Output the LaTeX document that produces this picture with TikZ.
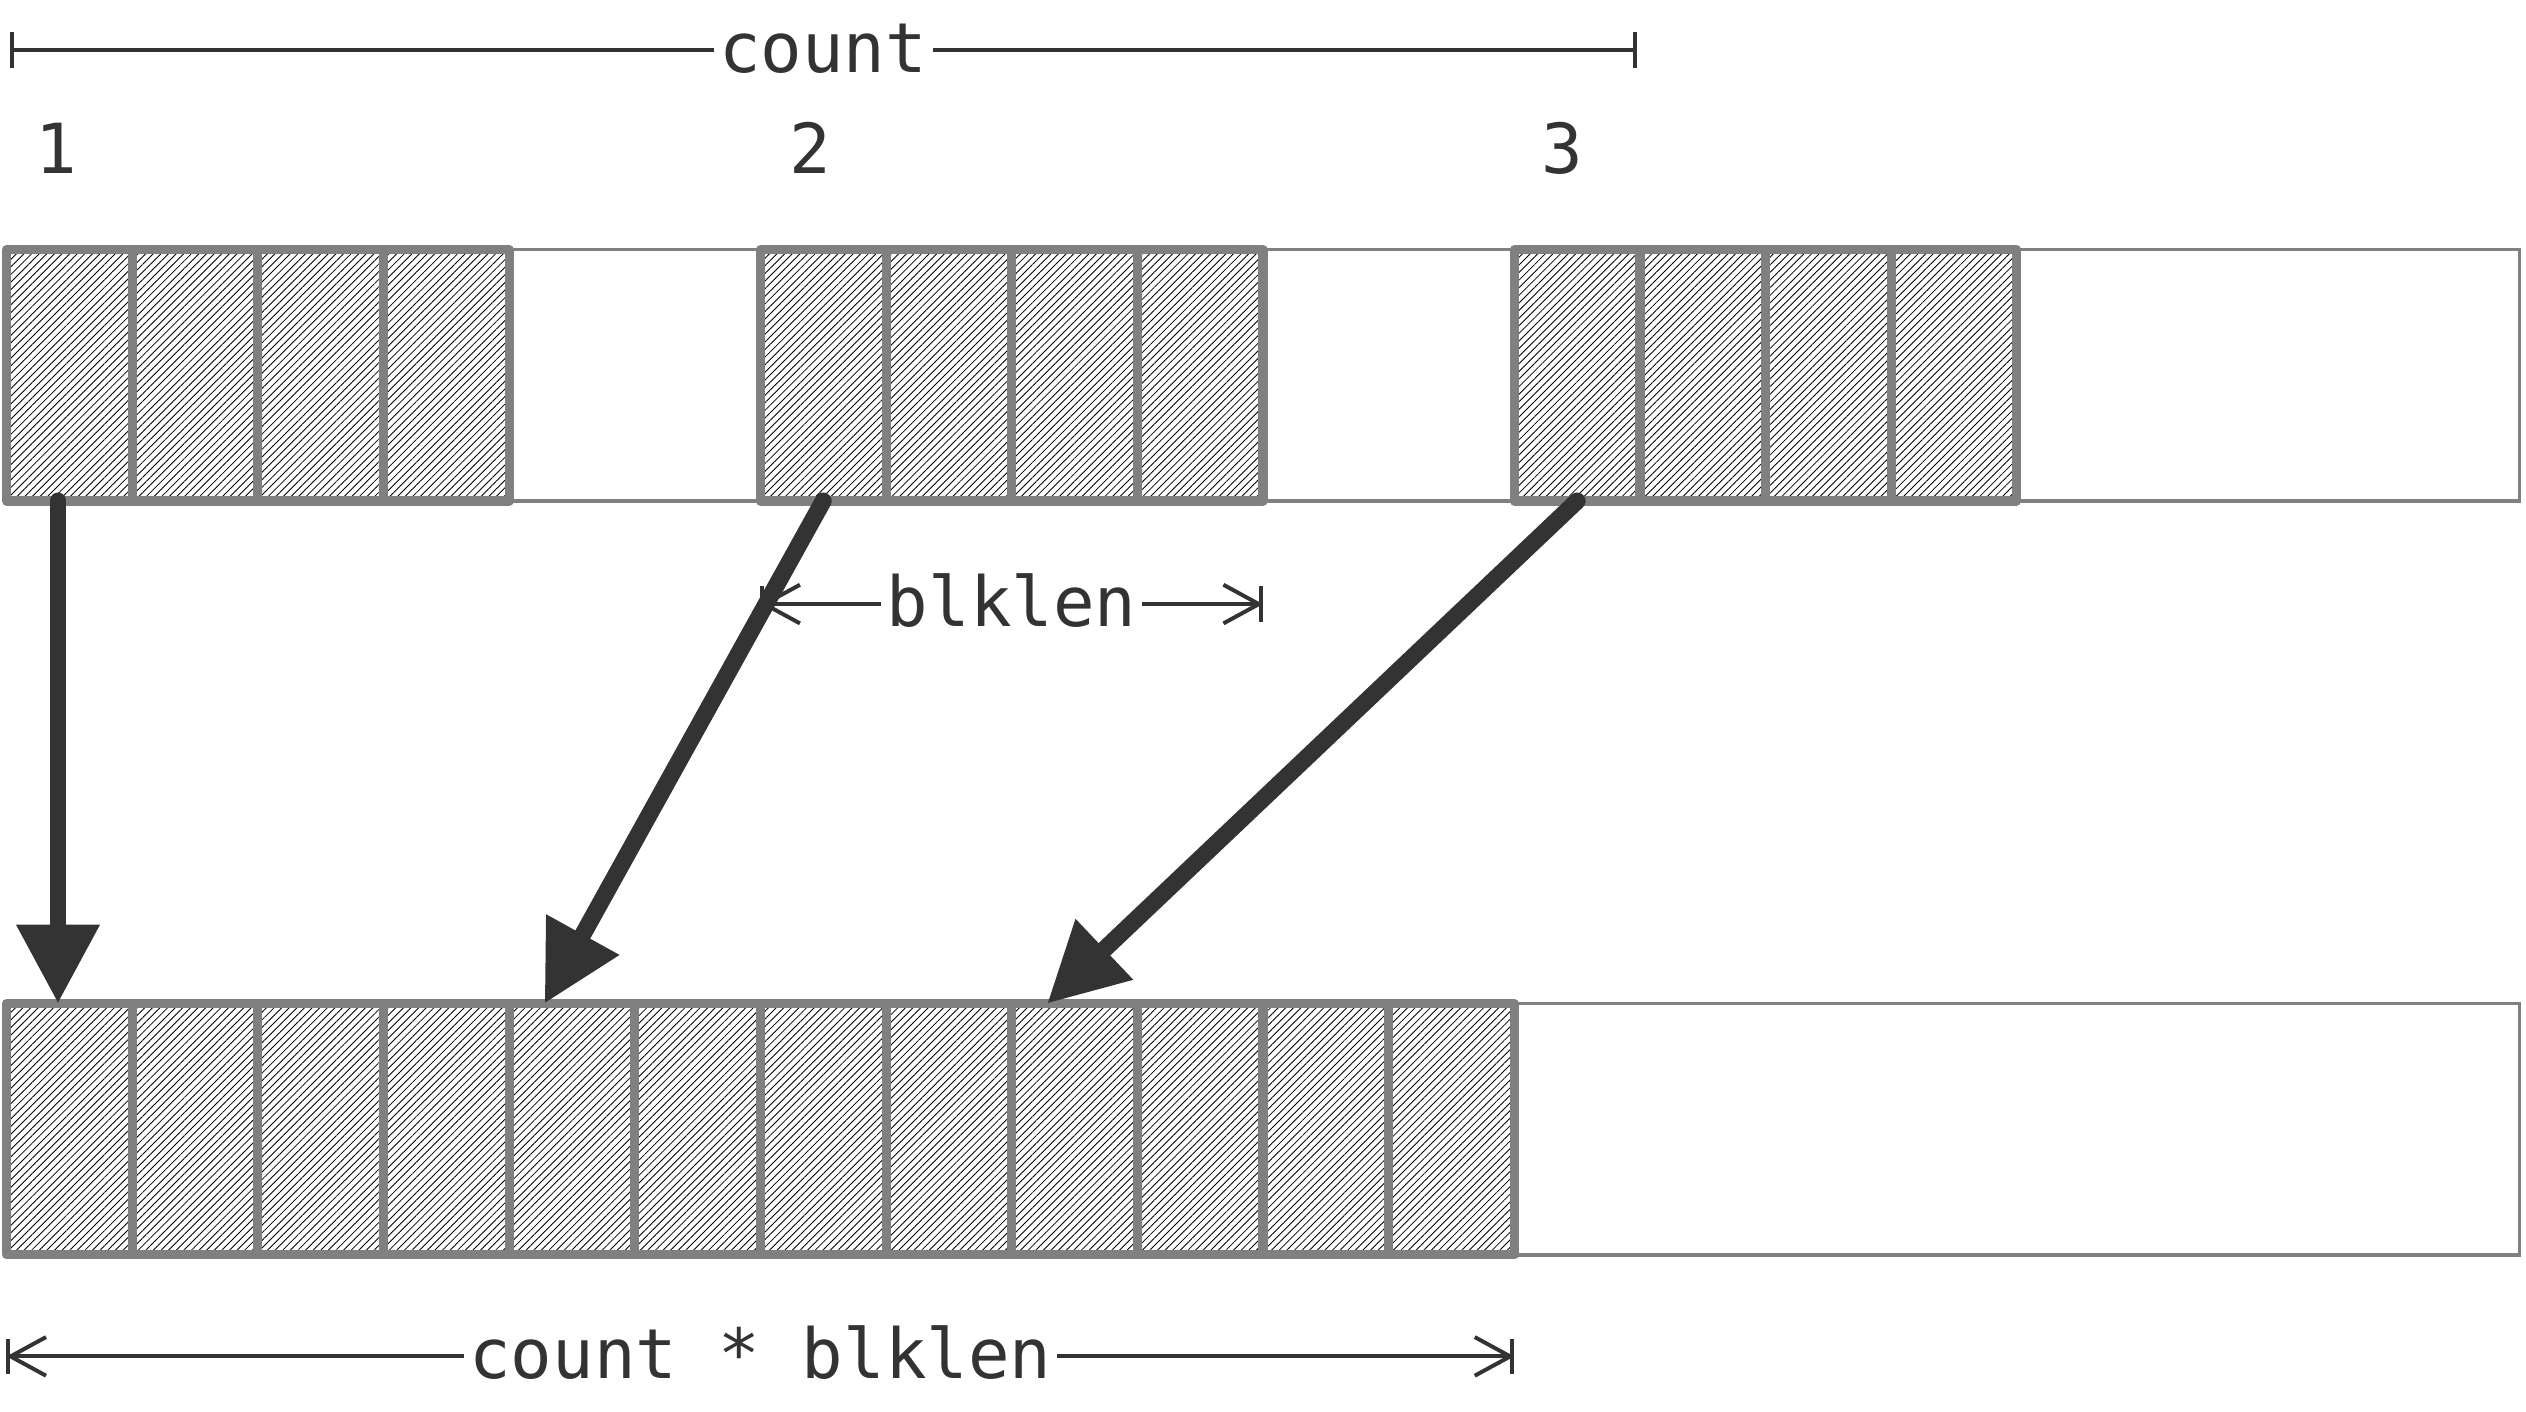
\documentclass[tikz,border=0pt]{standalone}
\usepackage{fontspec}
\setmonofont{DejaVu Sans Mono}
\usetikzlibrary{arrows.meta,patterns.meta}
\definecolor{cellgray}{HTML}{808080}
\definecolor{ink}{HTML}{333333}
\tikzset{
 track/.style={draw=cellgray,line width=0.6pt,fill=white,minimum width=156mm,minimum height=15.6mm,inner sep=0pt,outer sep=0pt},
 cell/.style={pattern={Lines[angle=45,distance=0.95pt,line width=0.15pt]},pattern color=black,minimum width=7.8mm,minimum height=15.6mm,inner sep=0pt,outer sep=0pt},
 cellborder/.style={draw=cellgray,line width=1.6pt,line join=round},
 bigarrow/.style={draw=ink,line width=3pt,line cap=round,-{Triangle[length=4.9mm,width=4.9mm]}},
 dimline/.style={draw=ink,line width=0.7pt},
 dimbar/.style={dimline,{Bar[width=2.2mm]}-{Bar[width=2.2mm]}},
 dimbarb/.style={dimline,{Straight Barb[length=2.2mm,width=2.4mm]}-{Straight Barb[length=2.2mm,width=2.4mm]}},
 lbl/.style={font=\ttfamily\fontsize{12.2}{14}\selectfont,text=ink,fill=white,inner sep=1pt,anchor=base},
}
\begin{document}
\begin{tikzpicture}[x=1mm,y=1mm]
\useasboundingbox (0,0) rectangle (156.8,87.6);
% tracks
\node[track] (toptrack) at (78.4,64.3) {};
\node[track] (bottrack) at (78.4,17.5) {};
% top cells
\foreach \k [count=\i] in {0,1,2,3,6,7,8,9,12,13,14,15}
  \node[cell] (t\i) at ({0.4+7.8*(\k+0.5)},64.3) {};
% bottom cells
\foreach \k [count=\i] in {0,...,11}
  \node[cell] (b\i) at ({0.4+7.8*(\k+0.5)},17.5) {};
% cell borders, drawn after all fills
\foreach \i in {1,...,12}{
  \draw[cellborder] (t\i.south west) rectangle (t\i.north east);
  \draw[cellborder] (b\i.south west) rectangle (b\i.north east);
}
% copy arrows
\draw[bigarrow] ([xshift=3.2mm]t1.south west) -- ([xshift=3.2mm]b1.north west);
\draw[bigarrow] (t5.south) -- ([xshift=2.2mm]b5.north west);
\draw[bigarrow] (t9.south) -- ([xshift=2.2mm]b9.north west);
% dimension lines
\coordinate (cs) at (0.6,84.5);
\coordinate (ce) at (101.6,84.5);
\draw[dimbar] (cs) -- (ce);
\coordinate (bs) at (t5.west |- 0,50.1);
\coordinate (be) at (t8.east |- 0,50.1);
\draw[dimbar] (bs) -- (be);
\draw[dimbarb] (bs) -- (be);
\coordinate (ts) at (b1.west |- 0,3.4);
\coordinate (te) at (b12.east |- 0,3.4);
\draw[dimbar] (ts) -- (te);
\draw[dimbarb] (ts) -- (te);
% labels
\node[lbl] (lcount) at (51.1,83.1) {count};
\node[lbl] (lblk) at (62.8,48.7) {blklen};
\node[lbl] (ltotal) at (47.2,2.0) {count * blklen};
\node[lbl,fill=none] (n1) at (3.5,76.8) {1};
\node[lbl,fill=none] (n2) at (50.3,76.8) {2};
\node[lbl,fill=none] (n3) at (97.0,76.8) {3};
\end{tikzpicture}
\end{document}
